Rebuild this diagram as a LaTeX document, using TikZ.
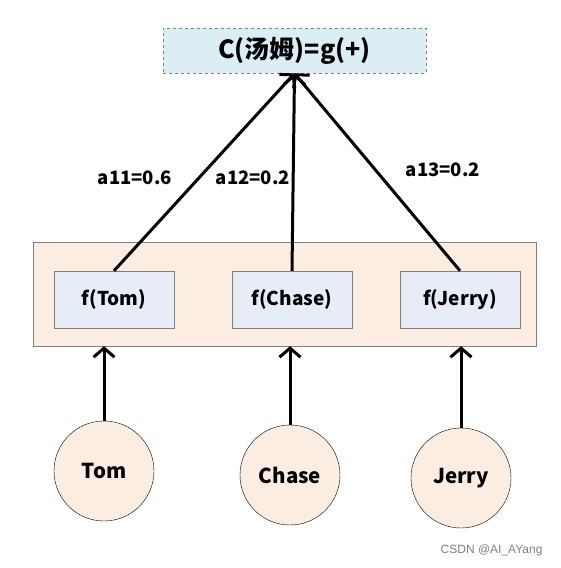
\documentclass[tikz,border=0pt]{standalone}
\usepackage{fontspec}
\usetikzlibrary{arrows.meta}
\setmainfont{Noto Sans CJK SC}
\newfontfamily\markfont{Liberation Sans}
\definecolor{topfill}{HTML}{DAEEF3}
\definecolor{peach}{HTML}{FCEDE2}
\definecolor{funcfill}{HTML}{E7EDF7}
\definecolor{edgegray}{HTML}{7F7F7F}
\tikzset{
    funcbox/.style={draw=edgegray, fill=funcfill, minimum width=120pt, minimum height=57pt, font=\fontsize{19}{22}\selectfont\bfseries},
    word/.style={circle, draw=black, fill=peach, minimum size=100pt, inner sep=0pt, font=\fontsize{20.5}{24}\selectfont\bfseries},
    weight/.style={font=\fontsize{18.5}{22}\selectfont\bfseries},
    link/.style={-{Straight Barb[length=9pt,width=21pt]}, line width=3pt}
}
\begin{document}
\begin{tikzpicture}[x=1pt,y=-1pt]
    \useasboundingbox (0,0) rectangle (560,568);

    % combined output
    \node[draw=edgegray, dashed, thick, fill=topfill, minimum width=263pt, minimum height=45pt,
          font=\fontsize{25}{29}\selectfont\bfseries] (out) at (294.5,50.5) {C(汤姆)=g(+)};

    % frame holding the three f() boxes
    \node[draw=edgegray, fill=peach, minimum width=503pt, minimum height=104pt] (frame) at (284.5,294) {};
    \node[funcbox] (ftom) at (114,299.5) {f(Tom)};
    \node[funcbox] (fchase) at (292,299.5) {f(Chase)};
    \node[funcbox] (fjerry) at (460,299.5) {f(Jerry)};

    % inputs
    \node[word] (tom) at (104,471) {Tom};
    \node[word] (chase) at (290,475) {Chase};
    \node[word] (jerry) at (461,478) {Jerry};

    \draw[link] (ftom.north) -- (out.south);
    \draw[link] (fchase.north) -- (out.south);
    \draw[link] (fjerry.north) -- (out.south);

    \node[weight] (w1) at (135,178) {a11=0.6};
    \node[weight] (w2) at (253,178) {a12=0.2};
    \node[weight] (w3) at (443,170) {a13=0.2};

    \draw[link] (tom.north) -- (tom.north |- frame.south);
    \draw[link] (chase.north) -- (chase.north |- frame.south);
    \draw[link] (jerry.north) -- (jerry.north |- frame.south);

    \node[text=gray, font=\markfont\fontsize{12}{14}\selectfont, anchor=east] (mark) at (546,550) {CSDN @AI\_AYang};
\end{tikzpicture}
\end{document}
